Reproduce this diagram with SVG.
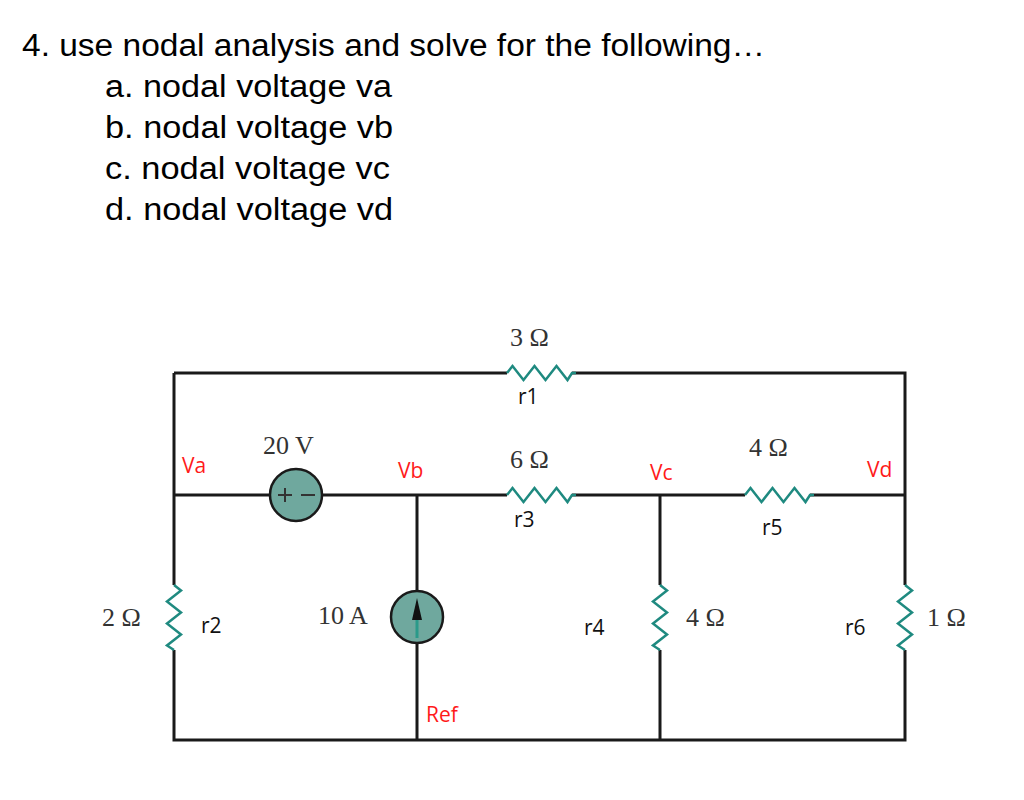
<svg xmlns="http://www.w3.org/2000/svg" width="1024" height="800" viewBox="0 0 1024 800">
<style>
.w{stroke:#1a1a1a;stroke-width:3;fill:none}
.z{stroke:#1f8a80;stroke-width:2.5;fill:none;stroke-linejoin:miter}
.src{fill:#6fa89e;stroke:#1a1a1a;stroke-width:2.5}
.q{font-family:Arial,"Liberation Sans",sans-serif;font-size:31px;fill:#000}
.v{font-family:"Times New Roman","Liberation Serif",serif;font-size:26px;fill:#333}
.n{font-family:"Open Sans","DejaVu Sans",sans-serif;font-size:21px;fill:#ff1a1a}
.r{font-family:"Open Sans","DejaVu Sans",sans-serif;font-size:21px;fill:#111}
</style>
<rect width="1024" height="800" fill="#fff"/>
<g id="question">
<text class="q" x="22" y="56" textLength="743" lengthAdjust="spacingAndGlyphs">4.  use nodal analysis and solve for the following…</text>
<text class="q" x="105" y="97" textLength="287" lengthAdjust="spacingAndGlyphs">a.  nodal voltage va</text>
<text class="q" x="105" y="138" textLength="288" lengthAdjust="spacingAndGlyphs">b.  nodal voltage vb</text>
<text class="q" x="105" y="179" textLength="285" lengthAdjust="spacingAndGlyphs">c.  nodal voltage vc</text>
<text class="q" x="105" y="220" textLength="288" lengthAdjust="spacingAndGlyphs">d.  nodal voltage vd</text>
</g>
<g id="wires">
<path class="w" d="M174 373 H507 M572 373 H905 V585 M905 650 V740 H174 V650 M174 585 V373"/>
<path class="w" d="M174 495 H270 M322 495 H507 M572 495 H745 M810 495 H905"/>
<path class="w" d="M417 495 V591 M417 643 V740"/>
<path class="w" d="M660 495 V585 M660 650 V740"/>
</g>
<g id="r1"><path class="z" d="M507 373 l5.5 -7 l11 14 l11 -14 l11 14 l11 -14 l11 14 l4.5 -7 h4"/><text class="v" x="510" y="346">3 Ω</text><text class="r" x="518" y="404">r1</text></g>
<g id="r3"><path class="z" d="M507 495 l5.5 -7 l11 14 l11 -14 l11 14 l11 -14 l11 14 l4.5 -7 h4"/><text class="v" x="510" y="468">6 Ω</text><text class="r" x="514" y="527">r3</text></g>
<g id="r5"><path class="z" d="M745 495 l5.5 -7 l11 14 l11 -14 l11 14 l11 -14 l11 14 l4.5 -7 h4"/><text class="v" x="749" y="456">4 Ω</text><text class="r" x="762" y="535">r5</text></g>
<g id="r2"><path class="z" d="M174 585 l7 5.5 l-14 11 l14 11 l-14 11 l14 11 l-14 11 l7 4.5"/><text class="v" x="102" y="626">2 Ω</text><text class="r" x="201" y="633">r2</text></g>
<g id="r4"><path class="z" d="M660 585 l7 5.5 l-14 11 l14 11 l-14 11 l14 11 l-14 11 l7 4.5"/><text class="v" x="686" y="626">4 Ω</text><text class="r" x="584" y="635">r4</text></g>
<g id="r6"><path class="z" d="M905 585 l7 5.5 l-14 11 l14 11 l-14 11 l14 11 l-14 11 l7 4.5"/><text class="v" x="927" y="626">1 Ω</text><text class="r" x="845" y="635">r6</text></g>
<g id="vsrc"><circle class="src" cx="296" cy="495" r="26"/><path d="M278 495 h14 M285 488 v14 M301 495 h14" stroke="#333" stroke-width="2"/><text class="v" x="263" y="454">20 V</text></g>
<g id="isrc"><circle class="src" cx="417" cy="617" r="26"/><path d="M417 638 V612" stroke="#2a9a8a" stroke-width="3"/><path d="M417 598 l-5 22 h10 z" fill="#111"/><text class="v" x="318" y="624">10 A</text></g>
<g id="labels">
<text class="n" x="182" y="473">Va</text>
<text class="n" x="398" y="478">Vb</text>
<text class="n" x="650" y="480">Vc</text>
<text class="n" x="867" y="477">Vd</text>
<text class="n" x="426" y="722">Ref</text>
</g>
</svg>
